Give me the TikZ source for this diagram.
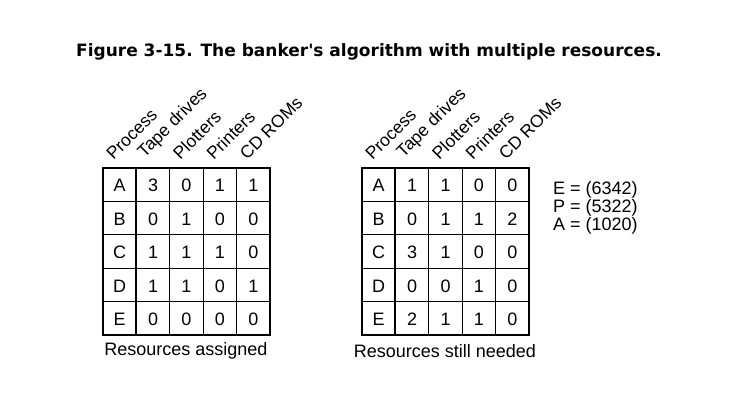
\documentclass[tikz,border=0pt]{standalone}
\usepackage{fontspec}
\setmainfont{Liberation Sans}
\newfontfamily\titlefont{DejaVu Sans}
\begin{document}
\begin{tikzpicture}[x=1pt,y=-1pt,
  cell/.style={font=\fontsize{18}{18}\selectfont},
  hdr/.style={font=\fontsize{17.5}{18}\selectfont,rotate=45,anchor=south west,inner sep=0pt},
  captxt/.style={font=\fontsize{18}{18}\selectfont}]
\useasboundingbox[fill=white] (0,0) rectangle (741,403);
\node[font=\titlefont\bfseries\fontsize{17}{17}\selectfont] (title) at (369,52) {Figure 3-15. The banker's algorithm with multiple resources.};
\def\W{33.4}
\foreach \ox/\nm/\capt/\data in {103/L/Resources assigned/{{A,3,0,1,1},{B,0,1,0,0},{C,1,1,1,0},{D,1,1,0,1},{E,0,0,0,0}},
                           362/R/Resources still needed/{{A,1,1,0,0},{B,0,1,1,2},{C,3,1,0,0},{D,0,0,1,0},{E,2,1,1,0}}}{
  \foreach \i in {1,...,4} \draw[line width=0.8pt] (\ox+\i*\W,168) -- (\ox+\i*\W,335);
  \foreach \j in {1,...,4} \draw[line width=0.8pt] (\ox,168+\j*\W) -- (\ox+167,168+\j*\W);
  \draw[line width=2pt] (\ox+\W,168) -- (\ox+\W,335);
  \draw[line width=1.8pt] (\ox,168) rectangle (\ox+167,335);
  \foreach \row [count=\r from 0] in \data {
    \foreach \v [count=\c from 0] in \row {
      \node[cell] (\nm-\r-\c) at (\ox+\c*\W+\W/2,168+\r*\W+\W/2+1) {\v};
    }
  }
  \foreach \t [count=\c from 0] in {Process,Tape drives,Plotters,Printers,CD ROMs}
    \node[hdr] (\nm-h\c) at (\ox+\c*\W+\W/2-6,161) {\t};
  \node[captxt] (\nm-cap) at (\ox+83,351) {\capt};
}
\node[captxt,anchor=west,align=left,inner sep=0pt,font=\fontsize{18}{18}\selectfont] (vec) at (553,208) {E = (6342)\\P = (5322)\\A = (1020)};
\end{tikzpicture}
\end{document}
